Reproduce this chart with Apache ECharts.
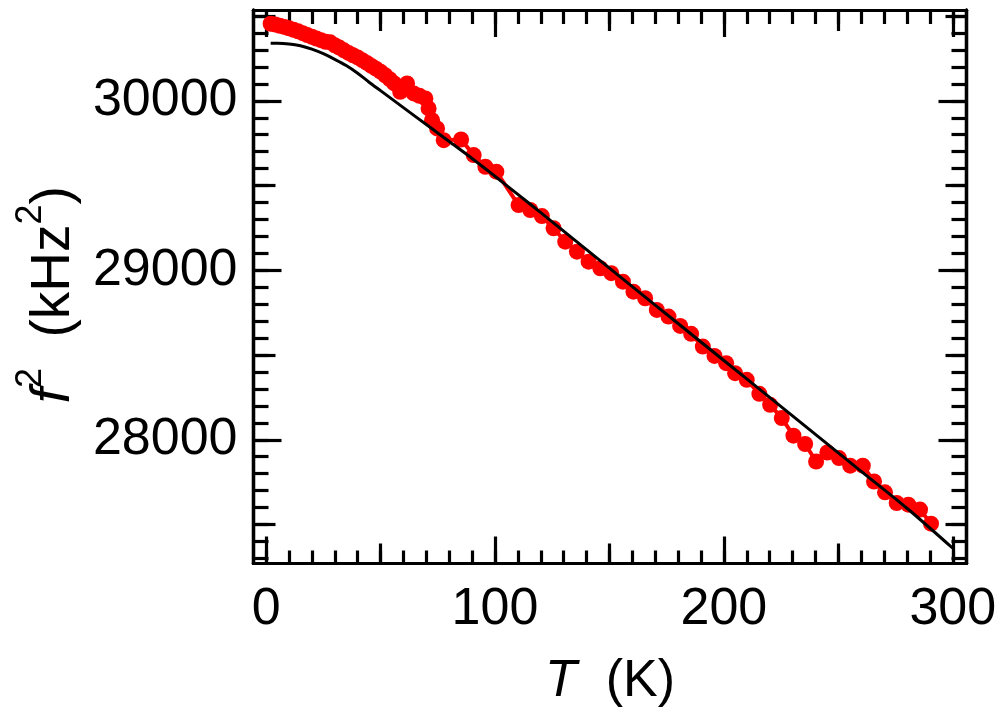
<!DOCTYPE html>
<html><head><meta charset="utf-8">
<script src="https://cdn.jsdelivr.net/npm/echarts@6/dist/echarts.min.js"></script>
<style>html,body{margin:0;padding:0;background:#fff}#c{width:1004px;height:719px}</style>
</head><body><div id="c"></div>
<script>
// Measured data (T in K, f^2 in kHz^2)
const tempK = [2,4,6,8,10,12,14,16,18,20,22,24,26,28,30,32,34,36,38,40,42,44,46,48,50,52,54,56,58.6,61.6,64.5,67,69.6,71,72.5,74.7,77.6,85.2,90.7,95.8,100.6,110.3,115.4,120.5,125.6,130.7,135.8,140.9,146,150.8,155.9,160.5,165.6,170.7,175.8,180.9,185.7,190.8,195.9,201,204.9,210,215.5,220.2,225.3,230.4,235.5,240.3,245.2,250.3,255.2,260.7,265.6,270.4,275.5,280.6,285.7,290.5];
const fSquared = [30455,30450,30443,30436,30428,30419,30410,30399,30388,30378,30368,30358,30348,30345,30328,30314,30298,30283,30269,30256,30240,30224,30206,30190,30172,30151,30128,30103,30053,30103,30044,30030,30014,29955,29886,29837,29768,29772,29680,29611,29582,29385,29356,29320,29248,29169,29110,29051,29012,28983,28933,28874,28835,28766,28727,28672,28625,28550,28495,28452,28393,28354,28271,28206,28128,28024,27975,27872,27925,27892,27847,27847,27754,27690,27627,27617,27588,27505];
// Fit curve
const fitT = [2,5,10,15,20,25,30,35,40,45,50,60,70,80,90,100,110,120,140,160,180,200,220,240,260,280,300];
const fitF = [30340,30340,30336,30325,30305,30278,30245,30208,30163,30110,30060,29960,29860,29760,29660,29555,29448,29340,29122,28904,28686,28468,28250,28032,27814,27596,27360];
// Ticks
const xMajor = [0,100,200,300];
const xMid = [50,150,250];
const xMinor = [0,10,20,30,40,50,60,70,80,90,100,110,120,130,140,150,160,170,180,190,200,210,220,230,240,250,260,270,280,290,300];
const yMajor = [28000,29000,30000];
const yMid = [27500,28500,29500,30500];
const yMinor = [27300,27400,27500,27600,27700,27800,27900,28000,28100,28200,28300,28400,28500,28600,28700,28800,28900,29000,29100,29200,29300,29400,29500,29600,29700,29800,29900,30000,30100,30200,30300,30400,30500];
const xMin = -5.5, xMax = 306, yMin = 27270, yMax = 30536;

const FONT = 'Liberation Sans, Arial, sans-serif';
const LINE = {color:'#000', width:3.2};

function mkAxis(kind, pos, ticks, len, withLabels) {
  const ax = {
    type:'value', position:pos,
    min: kind==='x'?xMin:yMin, max: kind==='x'?xMax:yMax,
    axisLine:{show:true,onZero:false,lineStyle:LINE},
    axisTick:{show:true,inside:true,length:len,customValues:ticks,lineStyle:LINE},
    axisLabel:{show:false},
    splitLine:{show:false},
    minorTick:{show:false}
  };
  if (withLabels) {
    ax.axisLabel = {show:true, customValues:ticks, formatter:v=>String(v),
      color:'#000', fontFamily:FONT, fontSize:52,
      margin: kind==='x'?20:16};
  }
  return ax;
}

const xAxes = [
  mkAxis('x','bottom',xMajor,27,true),
  mkAxis('x','bottom',xMid,20,false),
  mkAxis('x','bottom',xMinor,13,false),
  mkAxis('x','top',xMajor,27,false),
  mkAxis('x','top',xMid,21,false),
  mkAxis('x','top',xMinor,14,false)
];
xAxes[0].name = '{i|T}{n|  (K)}';
xAxes[0].nameLocation = 'middle';
xAxes[0].nameGap = 92;
xAxes[0].nameTextStyle = {color:'#000', fontFamily:FONT, fontSize:52,
  rich:{i:{fontStyle:'italic',fontSize:52,fontFamily:FONT,color:'#000'}, n:{fontSize:52,fontFamily:FONT,color:'#000'}}};

const yAxes = [
  mkAxis('y','left',yMajor,28,true),
  mkAxis('y','left',yMid,22,false),
  mkAxis('y','left',yMinor,15,false),
  mkAxis('y','right',yMajor,28,false),
  mkAxis('y','right',yMid,21,false),
  mkAxis('y','right',yMinor,15,false)
];
yAxes[0].name = '{i|f}{sup|2}{n|  (kHz}{sup|2}{n|)}';
yAxes[0].nameLocation = 'middle';
yAxes[0].nameRotate = 90;
yAxes[0].nameGap = 172;
yAxes[0].nameTextStyle = {color:'#000', fontFamily:FONT, fontSize:55, padding:[0,16,0,0],
  rich:{
    i:{fontStyle:'italic',fontSize:55,fontFamily:FONT,color:'#000',verticalAlign:'bottom'},
    n:{fontSize:55,fontFamily:FONT,color:'#000',verticalAlign:'bottom'},
    sup:{fontSize:36,fontFamily:FONT,color:'#000',verticalAlign:'bottom',padding:[0,0,32,0]}
  }};

const chart = echarts.init(document.getElementById('c'), null, {renderer:'canvas'});
chart.setOption({
  animation:false,
  backgroundColor:'#fff',
  grid:{left:253.5, right:37.5, top:10, bottom:155.5, containLabel:false, outerBoundsMode:'none'},
  xAxis: xAxes,
  yAxis: yAxes,
  series:[
    {type:'line', xAxisIndex:0, yAxisIndex:0,
     data: tempK.map((t,i)=>[t,fSquared[i]]),
     symbol:'circle', symbolSize:16, showSymbol:true, showAllSymbol:true,
     lineStyle:{color:'#ff0000',width:4}, itemStyle:{color:'#ff0000'}, z:2},
    {type:'line', xAxisIndex:0, yAxisIndex:0,
     data: fitT.map((t,i)=>[t,fitF[i]]),
     symbol:'none', smooth:0.3,
     lineStyle:{color:'#000',width:3}, z:3}
  ]
});
</script></body></html>
